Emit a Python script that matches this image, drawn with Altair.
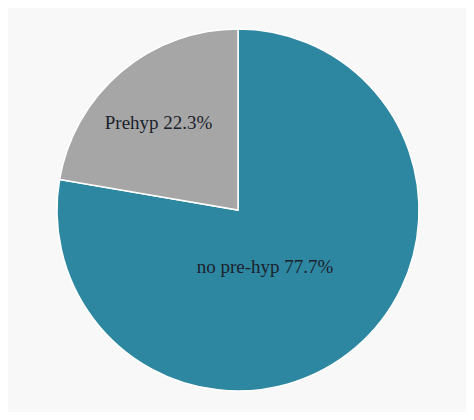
import altair as alt
import pandas as pd

categories = ["no pre-hyp", "Prehyp"]
values = [77.7, 22.3]
order = [1, 2]
colors = ["#2e87a1", "#a6a6a6"]

df = pd.DataFrame({"category": categories, "value": values, "ord": order})

base = alt.Chart(df).transform_window(
    cum="sum(value)", sort=[alt.SortField("ord")]
).transform_calculate(
    mid="datum.cum - datum.value / 2",
    label="datum.category + ' ' + format(datum.value, '.1f') + '%'",
)

cx, cy = 230, 202

arc = alt.Chart(df).mark_arc(outerRadius=181, stroke="white", strokeWidth=1.5).encode(
    theta=alt.Theta("value:Q", stack=True),
    order=alt.Order("ord:Q"),
    color=alt.Color("category:N", scale=alt.Scale(domain=categories, range=colors), legend=None),
    x=alt.value(cx),
    y=alt.value(cy),
)

def label_layer(cat, r, dx, dy):
    return base.transform_filter(alt.datum.category == cat).mark_text(
        font="Liberation Serif", fontSize=19, color="#1a222c",
        align="center", baseline="middle", radius=r, dx=dx, dy=dy,
    ).encode(
        theta=alt.Theta("mid:Q", scale=alt.Scale(domain=[0, 100]), stack=None),
        text="label:N",
        x=alt.value(cx),
        y=alt.value(cy),
    )

chart = alt.layer(
    arc,
    label_layer("Prehyp", 117, -4, 2),
    label_layer("no pre-hyp", 62, -13, 10),
).properties(
    width=458, height=404, padding=0,
    autosize=alt.AutoSizeParams(type="none"),
    background="#f8f8f8",
).configure_view(stroke=None)

chart.save("out.html", embed_options={"renderer": "svg", "actions": False})
